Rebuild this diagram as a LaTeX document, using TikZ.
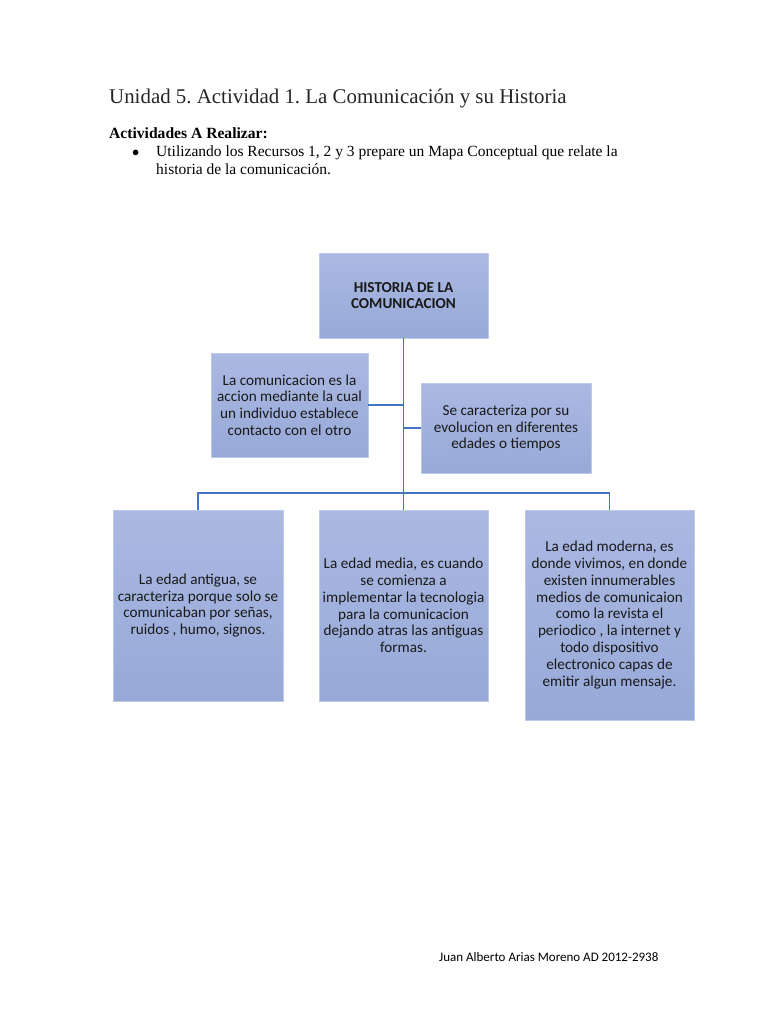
\documentclass[tikz,border=0pt]{standalone}
\usepackage{fontspec}
\setmainfont{Liberation Serif}
\newfontfamily\boxfont{Carlito}
\usetikzlibrary{positioning}
\frenchspacing
\definecolor{linkblue}{RGB}{68,114,196}
\definecolor{boxtop}{RGB}{171,185,226}
\definecolor{boxbot}{RGB}{151,169,216}
\definecolor{boxedge}{RGB}{190,200,232}
\tikzset{
  cbox/.style={rectangle, draw=boxedge, line width=0.8pt, top color=boxtop, bottom color=boxbot,
    align=center, inner sep=3pt, font=\boxfont\fontsize{15.2}{16.8}\selectfont, text=black!90},
  link/.style={draw=linkblue, line width=1.1pt},
  txt/.style={anchor=base west, inner sep=0pt}
}
\begin{document}
\begin{tikzpicture}[x=1pt,y=-1pt]
\useasboundingbox (0,0) rectangle (768,1024);
\fill[white] (0,0) rectangle (768,1024);

\node[txt, font=\fontsize{20.9}{24}\selectfont, text=black!85] (title) at (109,104) {\frenchspacing Unidad 5. Actividad 1. La Comunicación y su Historia};
\node[txt, font=\bfseries\fontsize{15.6}{18}\selectfont] (act) at (109,139) {Actividades A Realizar:};
\node[txt, font=\fontsize{15.5}{18}\selectfont] (bullet) at (132,157) {$\bullet$};
\node[txt, font=\fontsize{15.5}{18}\selectfont] (l1) at (156,157) {Utilizando los Recursos 1, 2 y 3 prepare un Mapa Conceptual que relate la};
\node[txt, font=\fontsize{15.5}{18}\selectfont] (l2) at (156,175) {historia de la comunicación.};

\node[cbox, minimum width=169pt, minimum height=85pt, font=\boxfont\bfseries\fontsize{15.2}{16.8}\selectfont] (top) at (403.5,295.5) {HISTORIA DE LA\\COMUNICACION};
\node[cbox, minimum width=157pt, minimum height=104pt] (left) at (289.5,405) {La comunicacion es la\\accion mediante la cual\\un individuo establece\\contacto con el otro};
\node[cbox, minimum width=170pt, minimum height=90pt] (right) at (506,428) {Se caracteriza por su\\evolucion en diferentes\\edades o tiempos};
\node[cbox, minimum width=170pt, minimum height=191pt] (b1) at (198,605.5) {La edad antigua, se\\caracteriza porque solo se\\comunicaban por señas,\\ruidos , humo, signos.};
\node[cbox, minimum width=169pt, minimum height=191pt] (b2) at (403.5,605.5) {La edad media, es cuando\\se comienza a\\implementar la tecnologia\\para la comunicacion\\dejando atras las antiguas\\formas.};
\node[cbox, minimum width=169pt, minimum height=210pt] (b3) at (609.5,615) {La edad moderna, es\\donde vivimos, en donde\\existen innumerables\\medios de comunicaion\\como la revista el\\periodico , la internet y\\todo dispositivo\\electronico capas de\\emitir algun mensaje.};

\coordinate (bus) at (403.5,493);
\draw[link] (top.south) -- (b2.north);
\draw[link] (left.east) -- (left.east -| top.south);
\draw[link] (right.west) -- (right.west -| top.south);
\draw[link] (b1.north) |- (bus) -| (b3.north);

\node[txt, font=\boxfont\fontsize{13}{15}\selectfont] (foot) at (439,961) {Juan Alberto Arias Moreno AD 2012-2938};
\end{tikzpicture}
\end{document}
